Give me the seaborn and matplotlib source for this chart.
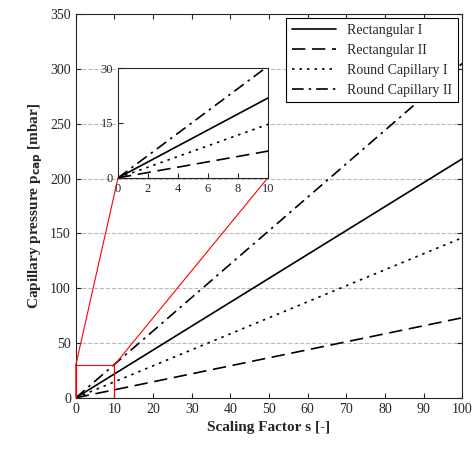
import numpy as np
import pandas as pd
import seaborn as sns
from matplotlib import pyplot as plt
from matplotlib.patches import Rectangle, ConnectionPatch

sns.set_style('ticks')
plt.rcParams['font.family'] = ['Liberation Serif', 'DejaVu Serif']

scale = [0, 100]
rect_1 = [0, 218]
rect_2 = [0, 73]
round_1 = [0, 146]
round_2 = [0, 305]
names = ['Rectangular I', 'Rectangular II', 'Round Capillary I', 'Round Capillary II']
styles = ['-', (0, (8, 4)), (0, (1.5, 3)), (0, (7, 3, 1.5, 3))]

df = pd.concat([pd.DataFrame({'s': scale, 'p': v, 'name': n})
                for n, v in zip(names, [rect_1, rect_2, round_1, round_2])])

fig = plt.figure(figsize=(4.74, 4.73), dpi=100)
ax = fig.add_axes([0.160, 0.159, 0.815, 0.811])
for n, ls in zip(names, styles):
    d = df[df['name'] == n]
    sns.lineplot(data=d, x='s', y='p', ax=ax, color='black', lw=1.2, linestyle=ls, label=n)
ax.set_xlim(0, 100); ax.set_ylim(0, 350)
ax.set_xticks(range(0, 101, 10)); ax.set_yticks(range(0, 351, 50))
for y in range(50, 301, 50):
    ax.axhline(y, color='#bbbbbb', ls='--', lw=0.8, zorder=0)
ax.set_xlabel('Scaling Factor s [-]', fontweight='bold', fontsize=11)
ax.set_ylabel(r'Capillary pressure p$_{\mathbf{cap}}$ [mbar]', fontweight='bold', fontsize=11)
ax.tick_params(direction='in', labelsize=10, top=True, right=True)
leg = ax.legend(loc='upper right', fontsize=10, fancybox=False, edgecolor='black',
                handlelength=3.2, borderaxespad=0.3, framealpha=1)
leg.get_frame().set_linewidth(0.8)
leg.set_zorder(10)

ax.add_patch(Rectangle((0, 0), 10, 30, fill=False, edgecolor='red', lw=0.8, zorder=5))
for xa, ya, xb, yb in [(0, 30, 0, 0), (10, 30, 10, 0)]:
    cp = ConnectionPatch((xa, ya), (xb, yb), coordsA='data', coordsB='data',
                         axesA=ax, axesB=ax, color='red', lw=0.8)
    cp.xy2 = (xb, yb)
    ax.add_artist(cp)

ins = fig.add_axes([0.249, 0.624, 0.316, 0.232], zorder=3)
ins.set_facecolor('white')
for n, ls in zip(names, styles):
    d = df[df['name'] == n]
    sns.lineplot(data=d, x='s', y='p', ax=ins, color='black', lw=1.2, linestyle=ls, legend=False)
ins.set_xlim(0, 10); ins.set_ylim(0, 30)
ins.set_xticks(range(0, 11, 2)); ins.set_yticks([0, 15, 30])
ins.set_xlabel(''); ins.set_ylabel('')
ins.tick_params(direction='in', labelsize=9)

# redraw connectors in figure coords to the inset's bottom corners
for c in list(ax.artists):
    c.remove()
for xa, xb in [(0, 0), (10, 10)]:
    fig.add_artist(ConnectionPatch((xa, 30), (xb, 0), coordsA=ax.transData,
                                   coordsB=ins.transData, color='red', lw=0.8, zorder=2))

fig.savefig('out.png', dpi=100)
